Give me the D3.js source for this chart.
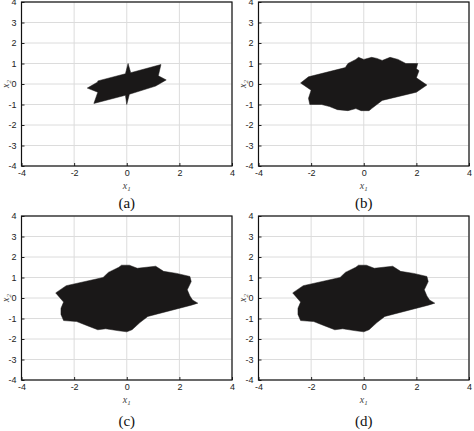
<!DOCTYPE html>
<html><head><meta charset="utf-8">
<script src="https://cdn.jsdelivr.net/npm/d3@7"></script>
<style>body{margin:0;background:#fff}</style>
</head><body>
<script>
// polygon vertices [x1, x2]
const shapeA = [[-1.5,-0.2],[-1.1,0.1],[-1.1,0.15],[-0.05,0.5],[0.05,1.0],[0.15,0.55],[1.3,0.95],[1.2,0.4],[1.5,0.2],[1.1,-0.1],[0.1,-0.5],[0,-1.0],[-0.05,-0.55],[-1.25,-0.95],[-1.1,-0.4]];
const shapeB = [[-2.4,0.05],[-2.1,0.35],[-0.7,0.8],[-0.6,1.0],[-0.3,1.2],[-0.2,1.3],[0,1.2],[0.3,1.3],[0.5,1.25],[0.7,1.15],[1.0,1.3],[1.3,1.2],[1.6,1.0],[2.05,1.0],[2.0,0.75],[2.1,0.65],[2.0,0.3],[2.4,-0.05],[2.0,-0.4],[0.7,-0.8],[0.5,-1.0],[0.3,-1.2],[0.2,-1.3],[-0.1,-1.3],[-0.3,-1.2],[-0.6,-1.3],[-1.0,-1.25],[-1.3,-1.1],[-1.6,-1.0],[-2.05,-1.0],[-2.1,-0.7],[-2.0,-0.3]];
const shapeC = [[-2.7,0.25],[-2.3,0.6],[-0.9,1.0],[-0.7,1.25],[-0.3,1.5],[-0.2,1.6],[0.1,1.6],[0.4,1.45],[1.1,1.55],[1.4,1.3],[1.9,1.2],[2.4,1.05],[2.45,0.8],[2.3,0.4],[2.4,0.1],[2.5,-0.1],[2.7,-0.25],[2.45,-0.35],[0.8,-0.9],[0.5,-1.2],[0.2,-1.55],[0,-1.65],[-0.3,-1.6],[-0.8,-1.5],[-1.1,-1.55],[-1.5,-1.35],[-1.9,-1.15],[-2.4,-1.1],[-2.5,-0.8],[-2.5,-0.5],[-2.4,-0.2],[-2.6,0.1]];
const shapeD = shapeC;
const ticks = [-4,-3,-2,-1,0,1,2,3,4];
const xTicks = [-4,-2,0,2,4];

const panels = [
  {shape: shapeA, label: "(a)", left: 21.5, top: 2, labY: 208},
  {shape: shapeB, label: "(b)", left: 258.5, top: 2, labY: 208},
  {shape: shapeC, label: "(c)", left: 21.5, top: 216, labY: 426},
  {shape: shapeD, label: "(d)", left: 258.5, top: 216, labY: 426}
];
const W = 210.5, H = 164;

const svg = d3.select("body").append("svg").attr("width", 474).attr("height", 431);

panels.forEach(p => {
  const x = d3.scaleLinear().domain([-4,4]).range([p.left, p.left + W]);
  const y = d3.scaleLinear().domain([-4,4]).range([p.top + H, p.top]);
  const g = svg.append("g");

  g.selectAll("line.gx").data(xTicks).join("line")
    .attr("x1", d => x(d)).attr("x2", d => x(d)).attr("y1", p.top).attr("y2", p.top + H)
    .attr("stroke", "#dcdcdc").attr("stroke-width", 1);
  g.selectAll("line.gy").data(ticks).join("line")
    .attr("y1", d => y(d)).attr("y2", d => y(d)).attr("x1", p.left).attr("x2", p.left + W)
    .attr("stroke", "#dcdcdc").attr("stroke-width", 1);

  g.append("path")
    .attr("d", d3.line().x(d => x(d[0])).y(d => y(d[1]))(p.shape) + "Z")
    .attr("fill", "#1a1818").attr("stroke", "#1a1818").attr("stroke-width", 0.5);

  const fmt = d => String(d);
  const xa = g.append("g").attr("transform", `translate(0,${p.top + H})`)
    .call(d3.axisBottom(x).tickValues(xTicks).tickFormat(fmt).tickSize(-3).tickPadding(4));
  const ya = g.append("g").attr("transform", `translate(${p.left},0)`)
    .call(d3.axisLeft(y).tickValues(ticks).tickFormat(fmt).tickSize(-3).tickPadding(5));
  [xa, ya].forEach(a => {
    a.select(".domain").remove();
    a.selectAll("line").attr("stroke", "#222");
    a.selectAll("text").attr("font-family", "Liberation Sans, Arial, sans-serif")
      .attr("font-size", 9).attr("fill", "#222");
  });

  g.append("rect").attr("x", p.left).attr("y", p.top).attr("width", W).attr("height", H)
    .attr("fill", "none").attr("stroke", "#111").attr("stroke-width", 1.2);

  const xl = g.append("text").attr("x", x(0)).attr("y", p.top + H + 23)
    .attr("text-anchor", "middle").attr("font-family", "Liberation Serif, serif")
    .attr("font-style", "italic").attr("font-size", 10).attr("fill", "#444");
  xl.append("tspan").text("x");
  xl.append("tspan").text("1").attr("font-size", 7).attr("dy", 2);

  const yl = g.append("text")
    .attr("transform", `translate(${p.left - 13},${y(0)}) rotate(-90)`)
    .attr("text-anchor", "middle").attr("font-family", "Liberation Serif, serif")
    .attr("font-style", "italic").attr("font-size", 10).attr("fill", "#444");
  yl.append("tspan").text("x");
  yl.append("tspan").text("2").attr("font-size", 7).attr("dy", 2);

  g.append("text").attr("x", x(0)).attr("y", p.labY)
    .attr("text-anchor", "middle").attr("font-family", "Liberation Serif, serif")
    .attr("font-size", 15).attr("fill", "#111").text(p.label);
});
</script>
</body></html>
